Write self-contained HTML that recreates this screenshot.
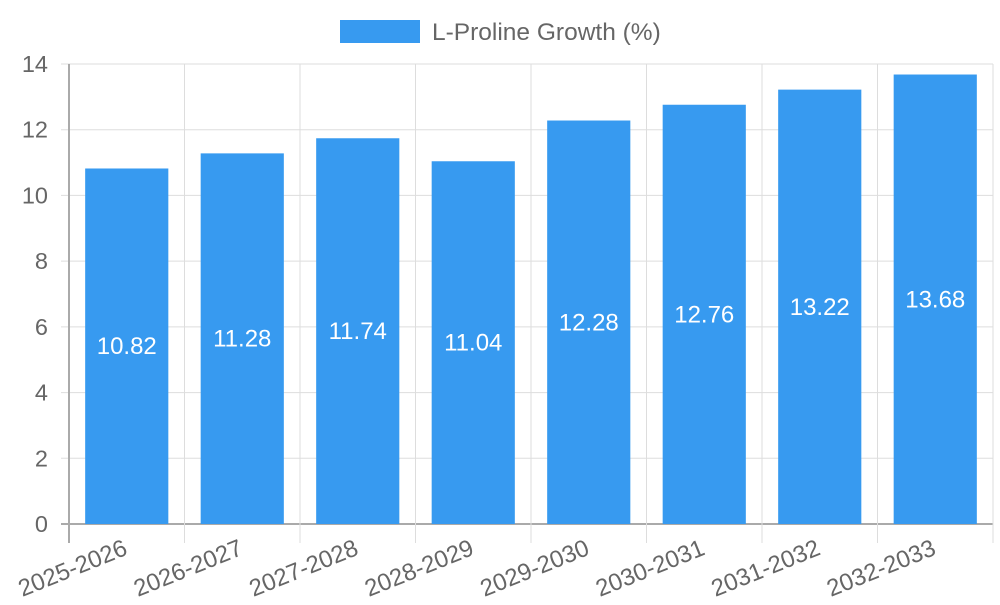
<!DOCTYPE html>
<html><head><meta charset="utf-8"><style>
body{margin:0;background:#fff;}
svg{font-family:"Liberation Sans",sans-serif;}
</style></head><body>
<svg id="c" width="1000" height="600">
<g>
<rect x="340" y="20" width="80" height="23" fill="#379af0"></rect>
<text x="432" y="40" font-size="24.5" fill="#666">L-Proline Growth (%)</text>
</g>
<g id="grid"></g><g id="bars"></g><g id="labels"></g>
</svg>
<script>
const categories=["2025-2026","2026-2027","2027-2028","2028-2029","2029-2030","2030-2031","2031-2032","2032-2033"];
const values=[10.82,11.28,11.74,11.04,12.28,12.76,13.22,13.68];
const yTicks=[0,2,4,6,8,10,12,14];
const NS="http://www.w3.org/2000/svg";
const L=69,R=993,T=64,B=524,yMax=14;
const y=v=>B-(v/yMax)*(B-T);
const cw=(R-L)/categories.length;
const xc=i=>L+cw*(i+0.5);
function mk(t,a,p){const e=document.createElementNS(NS,t);for(const k in a)e.setAttribute(k,a[k]);p.appendChild(e);return e;}
const g=document.getElementById('grid'),b=document.getElementById('bars'),lb=document.getElementById('labels');
yTicks.forEach(v=>{
 const ln=mk('line',{x1:L-8,x2:R,y1:y(v),y2:y(v),stroke:v===0?'#aaa':'#ddd','stroke-width':v===0?2:1},g);
 
 
 const t=mk('text',{x:L-21,y:y(v)+8,'text-anchor':'end','font-size':23.5,fill:'#666'},g);
 t.textContent=v;
 
 
});
for(let i=0;i<=categories.length;i++){
 const x=L+cw*i;
 const ln=mk('line',{x1:x,x2:x,y1:T,y2:B+19,stroke:i===0?'#aaa':'#ddd','stroke-width':i===0?2:1},g);
 
 
}
categories.forEach((c,i)=>{
 const w=cw*0.72;
 const r=mk('rect',{x:xc(i)-w/2,y:y(values[i]),width:w,height:B-y(values[i]),fill:'#379af0'},b);
 
 
 const vt=mk('text',{x:xc(i),y:(y(values[i])+B)/2+8,'text-anchor':'middle','font-size':24,fill:'#fff'},lb);
 vt.textContent=values[i].toFixed(2);
 
 
 const xt=mk('text',{x:0,y:0,'text-anchor':'end','font-size':24,fill:'#666',transform:`translate(${xc(i)+2},${B+30}) rotate(-22)`},lb);
 xt.textContent=c;
 
 
});
</script>
</body></html>
